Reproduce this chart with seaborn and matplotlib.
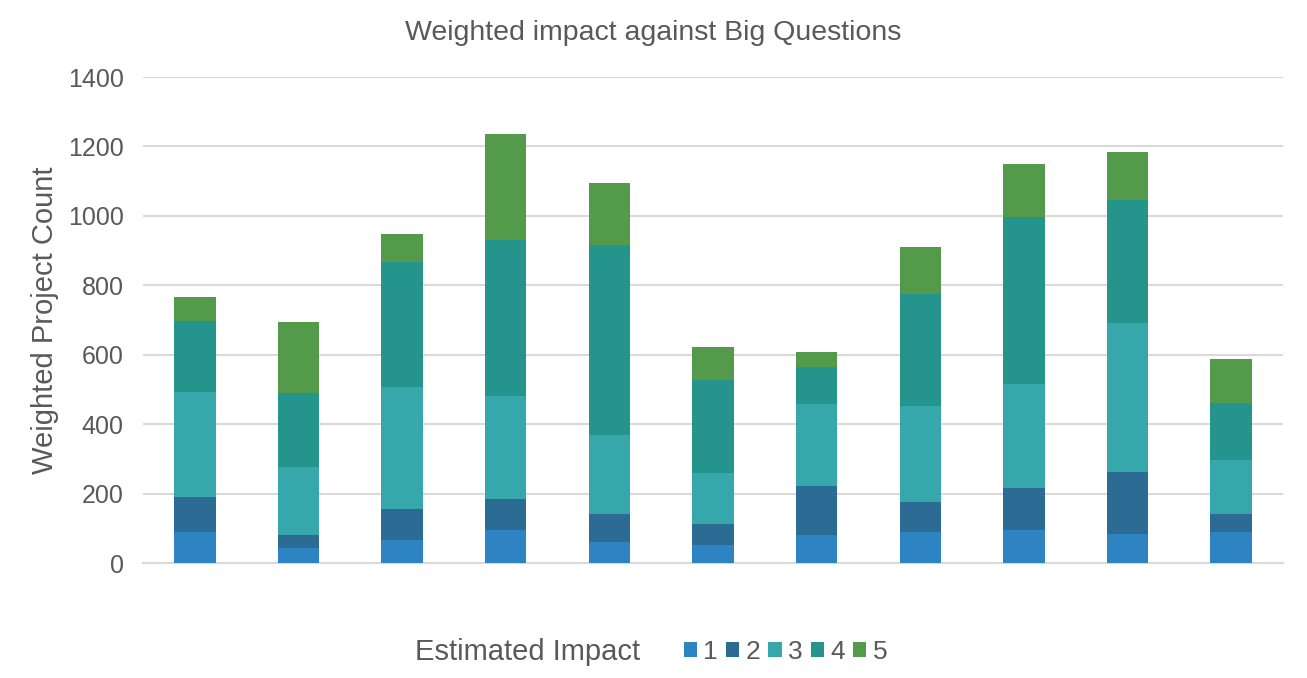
import numpy as np
import pandas as pd
import seaborn as sns
import matplotlib.pyplot as plt
from matplotlib.patches import Patch

# Values (segment heights, bottom to top)
questions = [f"Q{i}" for i in range(1, 12)]
impact_1 = [88, 42, 65, 94, 60, 51, 80, 88, 94, 85, 88]
impact_2 = [101, 40, 92, 89, 80, 60, 141, 87, 121, 176, 52]
impact_3 = [305, 196, 351, 297, 230, 147, 236, 276, 302, 429, 158]
impact_4 = [204, 213, 360, 451, 547, 270, 109, 325, 481, 356, 164]
impact_5 = [67, 202, 81, 305, 178, 95, 43, 135, 152, 139, 127]

levels = ["1", "2", "3", "4", "5"]
colors = ["#2E83C3", "#2C6B94", "#36A8AB", "#25948C", "#549A4B"]
text_col = "#595959"

sns.set_theme(style="white")
plt.rcParams['font.family'] = ['Liberation Sans', 'DejaVu Sans']

df = pd.DataFrame({"question": questions, "1": impact_1, "2": impact_2,
                   "3": impact_3, "4": impact_4, "5": impact_5})
cum = df[levels].cumsum(axis=1)

fig = plt.figure(figsize=(13.07, 6.78), dpi=100)
ax = fig.add_axes([0.1094, 0.1696, 0.8722, 0.7168])

# draw cumulative totals from the top layer down so lower layers sit on top
for lvl, col in reversed(list(zip(levels, colors))):
    sns.barplot(x=df["question"], y=cum[lvl], color=col, width=0.4,
                saturation=1, errorbar=None, ax=ax, zorder=3,
                linewidth=0, edgecolor="none")

ax.set_ylim(0, 1400)
ax.set_yticks(range(0, 1401, 200))
ax.yaxis.grid(True, color="#D9D9D9", linewidth=1.5, zorder=0)
for s in ["top", "right", "left"]:
    ax.spines[s].set_visible(False)
ax.spines["bottom"].set_color("#D9D9D9")
ax.spines["bottom"].set_linewidth(1.5)
ax.set_xticklabels([])
ax.tick_params(axis="y", length=0, pad=14, labelsize=18, labelcolor=text_col)
ax.tick_params(axis="x", length=0)
ax.set_xlabel("")
ax.set_ylabel("Weighted Project Count", fontsize=21, color=text_col, labelpad=6)

fig.text(0.5, 0.951, "Weighted impact against Big Questions", ha="center", va="center",
         fontsize=20.5, color=text_col)

handles = [Patch(facecolor=c, edgecolor="none") for c in colors]
leg = fig.legend(handles, levels, loc="center left", bbox_to_anchor=(0.523, 0.038),
                 ncol=5, frameon=False, fontsize=19, handlelength=0.5, handleheight=0.5,
                 handletextpad=0.25, columnspacing=0.3, borderaxespad=0, borderpad=0)
for t in leg.get_texts():
    t.set_color(text_col)
fig.text(0.3175, 0.038, "Estimated Impact", ha="left", va="center",
         fontsize=21, color=text_col)

fig.savefig("out.png", dpi=100)
